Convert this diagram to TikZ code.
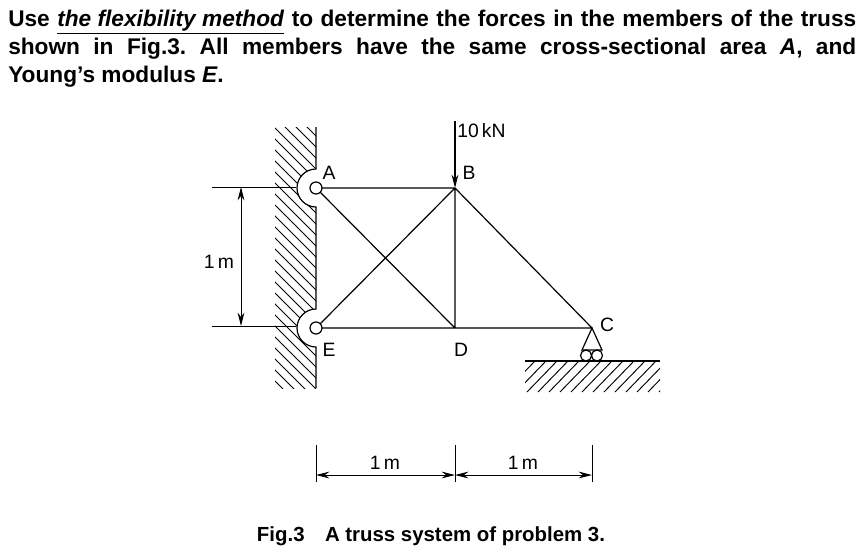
\documentclass[tikz,border=0pt]{standalone}
\usepackage{fontspec}
\setmainfont{Liberation Sans}
\usetikzlibrary{arrows.meta}
\begin{document}
\frenchspacing
\begin{tikzpicture}[x=0.75pt,y=-0.75pt,
  mem/.style={line width=0.9pt},
  lbl/.style={font=\fontsize{14.5}{16}\selectfont,inner sep=0pt},
  pin/.style={circle,draw,fill=white,line width=0.9pt,minimum size=9pt,inner sep=0pt},
  dim/.style={line width=0.7pt},
  arr/.style={-{Stealth[length=10pt,width=5pt]}},
  darr/.style={{Stealth[length=10pt,width=5pt]}-{Stealth[length=10pt,width=5pt]}}]
\useasboundingbox (0,0) rectangle (864,554);
\node[anchor=north west,inner sep=0pt,text width=636pt,align=justify,font=\bfseries\fontsize{17}{21}\selectfont] (title) at (8,10)
{Use \underline{\textit{the flexibility method}} to determine the forces in the members of the truss shown in Fig.3. All members have the same cross-sectional area \textit{A}, and\linebreak Young's modulus \textit{E}.};
% wall hatch
\begin{scope}
\clip (275,127) rectangle (316,388);
\foreach \i in {0,...,30} \draw[line width=0.7pt] (270,90+\i*11) -- (320,140+\i*11);
\end{scope}
\fill[white] (316,188) circle (19);
\fill[white] (316,328) circle (19);
\draw[line width=0.9pt] (316,127) -- (316,169) arc (270:90:19) -- (316,309) arc (270:90:19) -- (316,388);
\coordinate (A) at (316,188);
\coordinate (B) at (455,188);
\coordinate (E) at (316,328);
\coordinate (D) at (455,328);
\coordinate (C) at (592,328);
\draw[mem] (A)--(B) (E)--(D)--(C) (B)--(D) (A)--(D) (E)--(B) (B)--(C);
\node[pin] (pA) at (A) {};
\node[pin] (pE) at (E) {};
% support C
\draw[line width=0.9pt,fill=white] (C) -- (582,350) -- (602,350) -- cycle;
\draw[line width=0.9pt] (586,355.5) circle (5.5) (597,355.5) circle (5.5);
\draw[line width=0.9pt] (525,361) -- (660,361);
\begin{scope}
\clip (525,361) rectangle (660,392);
\foreach \i in {0,...,16} \draw[line width=0.7pt] (505+\i*11,392) -- (535+\i*11,361);
\end{scope}
% labels
\node[lbl] (lA) at (329,173) {A};
\node[lbl] (lB) at (469,173) {B};
\node[lbl] (lC) at (607,325) {C};
\node[lbl] (lD) at (461,350) {D};
\node[lbl] (lE) at (329,350) {E};
% load
\coordinate (F) at (455,121);
\draw[line width=0.8pt,arr] (F) -- (B);
\node[lbl,anchor=west] (lF) at (457,131) {10\,kN};
% left dimension
\coordinate (h1) at (212,187); \coordinate (h2) at (212,326);
\draw[dim] (h1) -- (296,187) (h2) -- (296,326);
\draw[dim,darr] (241,187) -- (241,326);
\node[lbl] (l1m) at (219,262) {1\,m};
% bottom dimension
\draw[dim] (316,445) -- (316,482) (455,445) -- (455,482) (592,445) -- (592,482);
\draw[dim,darr] (316,475) -- (455,475);
\draw[dim,darr] (455,475) -- (592,475);
\node[lbl] (b1) at (385,463) {1\,m};
\node[lbl] (b2) at (523,463) {1\,m};
\node[font=\bfseries\fontsize{15.3}{17}\selectfont,inner sep=0pt] (cap) at (431,536) {Fig.3\quad A truss system of problem 3.};
\end{tikzpicture}
\end{document}
